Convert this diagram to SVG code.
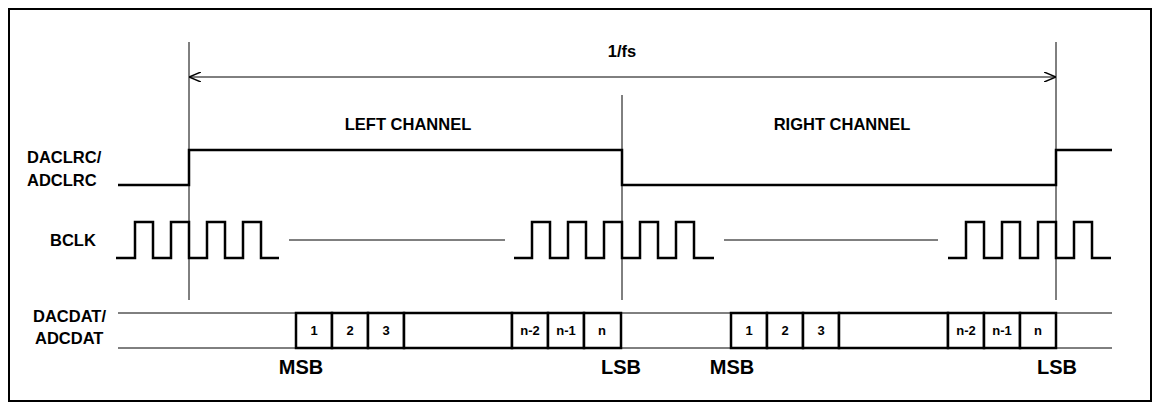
<svg xmlns="http://www.w3.org/2000/svg" width="1160" height="409" viewBox="0 0 1160 409">
<style>
.w{fill:none;stroke:#000;stroke-width:2.5}
.t{fill:none;stroke:#000;stroke-width:1}
.b{fill:#fff;stroke:#000;stroke-width:2.5}
text{font-family:"Liberation Sans",Arial,sans-serif;font-weight:bold;fill:#000}
.s{font-size:16.5px}
.c{font-size:16.5px;text-anchor:middle}
.n{font-size:13px;text-anchor:middle}
.l{font-size:20px;text-anchor:middle}
</style>
<defs>
<marker id="a" markerWidth="12" markerHeight="10" refX="11" refY="5" orient="auto-start-reverse" markerUnits="userSpaceOnUse"><path d="M0,0 L12,5 L0,10" fill="none" stroke="#000" stroke-width="1.5"/></marker>
</defs>
<rect x="9" y="9" width="1142" height="392" fill="#fff" stroke="#000" stroke-width="2"/>
<g id="labels">
<text class="s" x="27" y="163">DACLRC/</text>
<text class="s" x="27" y="186">ADCLRC</text>
<text class="s" x="50" y="246">BCLK</text>
<text class="s" x="33" y="322">DACDAT/</text>
<text class="s" x="35" y="344">ADCDAT</text>
<text class="c" x="622" y="57">1/fs</text>
<text class="c" x="408" y="130">LEFT CHANNEL</text>
<text class="c" x="842" y="130">RIGHT CHANNEL</text>
<text class="l" x="301" y="374">MSB</text>
<text class="l" x="621" y="374">LSB</text>
<text class="l" x="732" y="374">MSB</text>
<text class="l" x="1057" y="374">LSB</text>
</g>
<g id="connectors">
<line class="t" x1="189" y1="42" x2="189" y2="300"/>
<line class="t" x1="622" y1="95" x2="622" y2="300"/>
<line class="t" x1="1056" y1="42" x2="1056" y2="300"/>
<line class="t" x1="190" y1="77" x2="1055" y2="77" stroke-width="1.5" marker-start="url(#a)" marker-end="url(#a)"/>
<line class="t" x1="289" y1="240" x2="505" y2="240"/>
<line class="t" x1="724" y1="240" x2="938" y2="240"/>
<line class="t" x1="118" y1="313" x2="1112" y2="313" stroke="#555"/>
<line class="t" x1="118" y1="348" x2="1112" y2="348"/>
</g>
<g id="lrc"><path class="w" d="M118,185 H189 V150 H622 V185 H1056 V150 H1112"/></g>
<g id="bclk">
<path class="w" d="M116,258 H135 V222 H153 V258 H171 V222 H189 V258 H207 V222 H225 V258 H243 V222 H261 V258 H279"/>
<path class="w" d="M514,258 H532 V222 H550 V258 H568 V222 H586 V258 H604 V222 H622 V258 H640 V222 H658 V258 H676 V222 H694 V258 H714"/>
<path class="w" d="M948,258 H966 V222 H984 V258 H1002 V222 H1020 V258 H1038 V222 H1056 V258 H1074 V222 H1092 V258 H1111"/>
</g>
<g id="data">
<rect class="b" x="296" y="313" width="36" height="35"/><text class="n" x="314" y="335">1</text>
<rect class="b" x="332" y="313" width="36" height="35"/><text class="n" x="350" y="335">2</text>
<rect class="b" x="368" y="313" width="36" height="35"/><text class="n" x="386" y="335">3</text>
<rect class="b" x="404" y="313" width="108" height="35"/>
<rect class="b" x="512" y="313" width="36" height="35"/><text class="n" x="530" y="335">n-2</text>
<rect class="b" x="548" y="313" width="36" height="35"/><text class="n" x="566" y="335">n-1</text>
<rect class="b" x="584" y="313" width="37" height="35"/><text class="n" x="602" y="335">n</text>
<rect class="b" x="731" y="313" width="36" height="35"/><text class="n" x="749" y="335">1</text>
<rect class="b" x="767" y="313" width="36" height="35"/><text class="n" x="785" y="335">2</text>
<rect class="b" x="803" y="313" width="36" height="35"/><text class="n" x="821" y="335">3</text>
<rect class="b" x="839" y="313" width="109" height="35"/>
<rect class="b" x="948" y="313" width="36" height="35"/><text class="n" x="966" y="335">n-2</text>
<rect class="b" x="984" y="313" width="36" height="35"/><text class="n" x="1002" y="335">n-1</text>
<rect class="b" x="1020" y="313" width="36" height="35"/><text class="n" x="1038" y="335">n</text>
</g>
</svg>
